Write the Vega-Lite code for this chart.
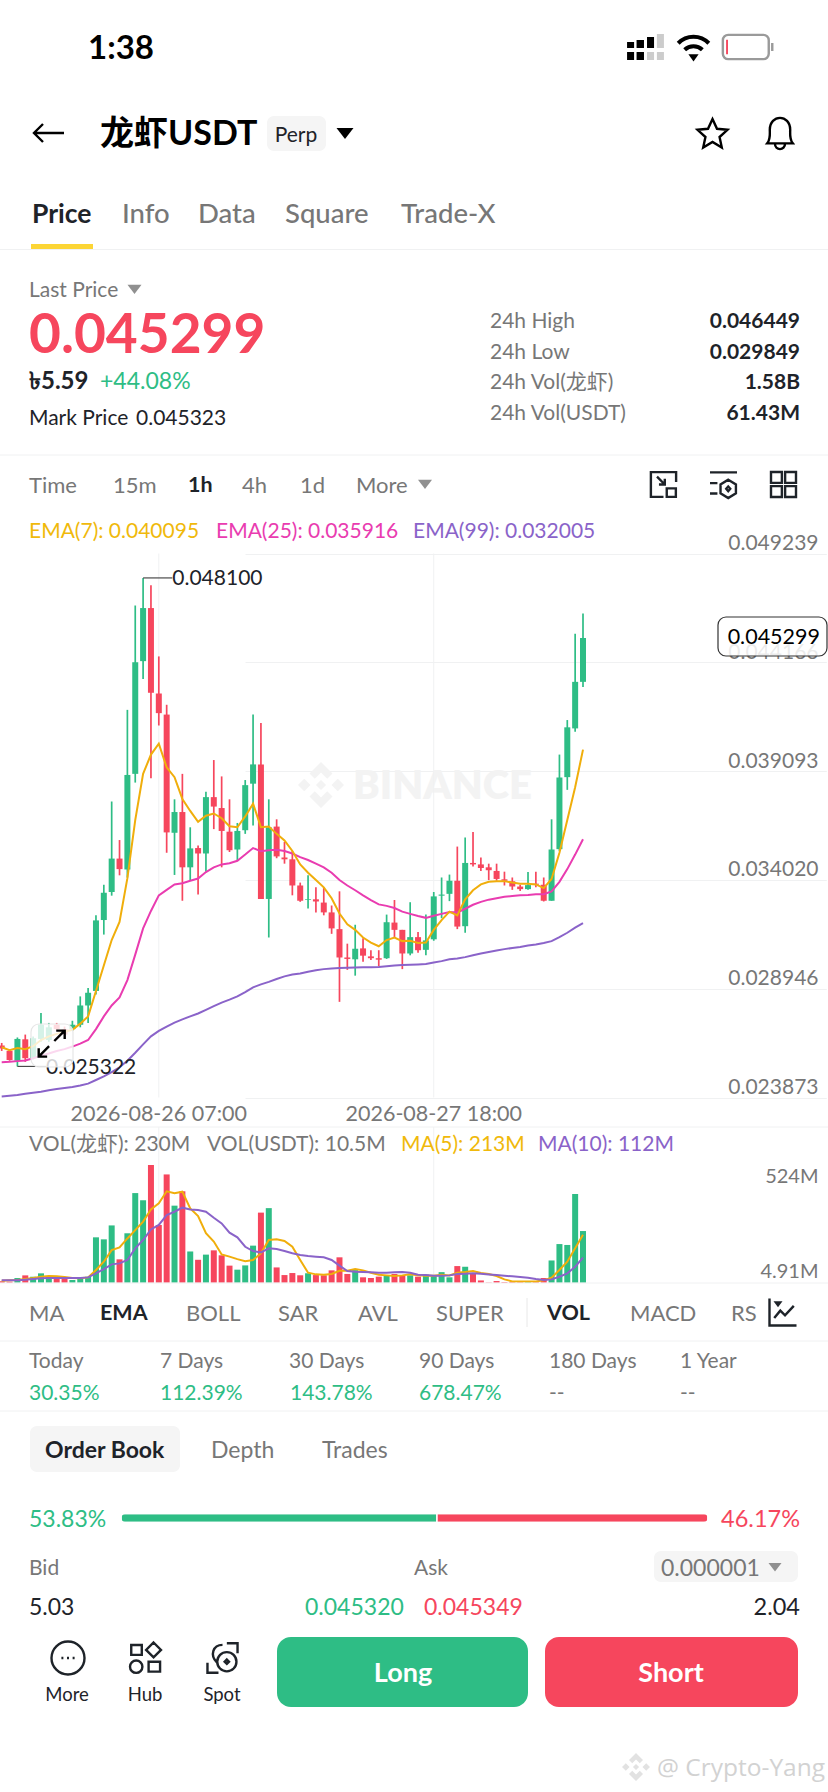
{
  "$schema": "https://vega.github.io/schema/vega-lite/v6.json",
  "width": 828,
  "height": 1792,
  "padding": 0,
  "autosize": "none",
  "background": "#FFFFFF",
  "config": {"view": {"stroke": null}, "text": {"dy": 1.5}},
  "datasets": {
    "candles": [
      {"t":"2026-08-25 11:00","open":0.026299,"high":0.026417,"low":0.026044,"close":0.026163,"ema7":0.026214,"ema25":0.025519,"ema99":0.023925,"vol":5.9,"ma5":8.9,"ma10":10.4},
      {"t":"2026-08-25 12:00","open":0.026044,"high":0.026129,"low":0.025586,"close":0.02562,"ema7":0.026078,"ema25":0.025536,"ema99":0.023959,"vol":4.5,"ma5":10.4,"ma10":10.4},
      {"t":"2026-08-25 13:00","open":0.025586,"high":0.026672,"low":0.025322,"close":0.026604,"ema7":0.02618,"ema25":0.025569,"ema99":0.023993,"vol":20.8,"ma5":11.9,"ma10":10.4},
      {"t":"2026-08-25 14:00","open":0.026587,"high":0.026807,"low":0.025536,"close":0.025705,"ema7":0.026129,"ema25":0.025603,"ema99":0.024044,"vol":32.6,"ma5":16.3,"ma10":13.4},
      {"t":"2026-08-25 15:00","open":0.025705,"high":0.026723,"low":0.025654,"close":0.026638,"ema7":0.026265,"ema25":0.025705,"ema99":0.024094,"vol":26.7,"ma5":20.8,"ma10":16.3},
      {"t":"2026-08-25 16:00","open":0.026604,"high":0.027808,"low":0.026468,"close":0.027265,"ema7":0.026553,"ema25":0.025824,"ema99":0.024145,"vol":41.6,"ma5":26.7,"ma10":19.3},
      {"t":"2026-08-25 17:00","open":0.026553,"high":0.02735,"low":0.026468,"close":0.027146,"ema7":0.026723,"ema25":0.025926,"ema99":0.024213,"vol":23.7,"ma5":29.7,"ma10":20.8},
      {"t":"2026-08-25 18:00","open":0.027265,"high":0.02735,"low":0.026977,"close":0.027062,"ema7":0.026841,"ema25":0.026044,"ema99":0.024264,"vol":20.8,"ma5":28.2,"ma10":20.8},
      {"t":"2026-08-25 19:00","open":0.027062,"high":0.02718,"low":0.026723,"close":0.026807,"ema7":0.026943,"ema25":0.026129,"ema99":0.024315,"vol":19.3,"ma5":25.2,"ma10":20.8},
      {"t":"2026-08-25 20:00","open":0.027062,"high":0.027451,"low":0.026977,"close":0.027265,"ema7":0.027028,"ema25":0.026248,"ema99":0.024366,"vol":11.9,"ma5":20.8,"ma10":20.8},
      {"t":"2026-08-25 21:00","open":0.027265,"high":0.028587,"low":0.027146,"close":0.028164,"ema7":0.027316,"ema25":0.026383,"ema99":0.024433,"vol":17.8,"ma5":19.3,"ma10":20.8},
      {"t":"2026-08-25 22:00","open":0.028164,"high":0.028977,"low":0.02735,"close":0.028757,"ema7":0.027655,"ema25":0.026553,"ema99":0.024518,"vol":26.7,"ma5":23.7,"ma10":23.7},
      {"t":"2026-08-25 23:00","open":0.028842,"high":0.032368,"low":0.028672,"close":0.032131,"ema7":0.028842,"ema25":0.027062,"ema99":0.024688,"vol":202,"ma5":56.4,"ma10":41.6},
      {"t":"2026-08-26 00:00","open":0.032148,"high":0.033793,"low":0.03147,"close":0.03342,"ema7":0.030029,"ema25":0.027655,"ema99":0.024857,"vol":193,"ma5":93.5,"ma10":60.8},
      {"t":"2026-08-26 01:00","open":0.033454,"high":0.037675,"low":0.033284,"close":0.035013,"ema7":0.031215,"ema25":0.028164,"ema99":0.025061,"vol":255,"ma5":145,"ma10":81.6},
      {"t":"2026-08-26 02:00","open":0.035013,"high":0.035878,"low":0.034233,"close":0.034522,"ema7":0.032063,"ema25":0.028537,"ema99":0.025281,"vol":104,"ma5":157,"ma10":86},
      {"t":"2026-08-26 03:00","open":0.034505,"high":0.041948,"low":0.034132,"close":0.038913,"ema7":0.034098,"ema25":0.02935,"ema99":0.025586,"vol":220,"ma5":197,"ma10":101},
      {"t":"2026-08-26 04:00","open":0.038964,"high":0.046814,"low":0.038557,"close":0.044169,"ema7":0.036811,"ema25":0.030537,"ema99":0.025959,"vol":399,"ma5":234,"ma10":153},
      {"t":"2026-08-26 05:00","open":0.04422,"high":0.0481,"low":0.043389,"close":0.046695,"ema7":0.038964,"ema25":0.031758,"ema99":0.02635,"vol":367,"ma5":272,"ma10":190},
      {"t":"2026-08-26 06:00","open":0.046695,"high":0.047764,"low":0.03876,"close":0.042745,"ema7":0.039863,"ema25":0.032572,"ema99":0.026723,"vol":524,"ma5":326,"ma10":237},
      {"t":"2026-08-26 07:00","open":0.042711,"high":0.04444,"low":0.041219,"close":0.041795,"ema7":0.040371,"ema25":0.033301,"ema99":0.026977,"vol":257,"ma5":353,"ma10":257},
      {"t":"2026-08-26 08:00","open":0.041728,"high":0.042185,"low":0.035285,"close":0.036234,"ema7":0.039269,"ema25":0.033555,"ema99":0.02718,"vol":482,"ma5":407,"ma10":301},
      {"t":"2026-08-26 09:00","open":0.036217,"high":0.037777,"low":0.03425,"close":0.037184,"ema7":0.038811,"ema25":0.03381,"ema99":0.027367,"vol":343,"ma5":398,"ma10":316},
      {"t":"2026-08-26 10:00","open":0.037184,"high":0.038964,"low":0.033047,"close":0.034606,"ema7":0.037794,"ema25":0.03386,"ema99":0.027519,"vol":407,"ma5":405,"ma10":334},
      {"t":"2026-08-26 11:00","open":0.034606,"high":0.036472,"low":0.034013,"close":0.035488,"ema7":0.037235,"ema25":0.033979,"ema99":0.027655,"vol":139,"ma5":331,"ma10":326},
      {"t":"2026-08-26 12:00","open":0.035505,"high":0.035624,"low":0.033335,"close":0.035251,"ema7":0.036726,"ema25":0.034081,"ema99":0.027791,"vol":102,"ma5":297,"ma10":324},
      {"t":"2026-08-26 13:00","open":0.035251,"high":0.038133,"low":0.034403,"close":0.037879,"ema7":0.037014,"ema25":0.034386,"ema99":0.02796,"vol":125,"ma5":220,"ma10":316},
      {"t":"2026-08-26 14:00","open":0.037879,"high":0.039608,"low":0.036387,"close":0.037438,"ema7":0.037116,"ema25":0.034606,"ema99":0.02813,"vol":144,"ma5":183,"ma10":289},
      {"t":"2026-08-26 15:00","open":0.03737,"high":0.038845,"low":0.034606,"close":0.036302,"ema7":0.036895,"ema25":0.034742,"ema99":0.028299,"vol":122,"ma5":126,"ma10":264},
      {"t":"2026-08-26 16:00","open":0.036268,"high":0.037777,"low":0.035319,"close":0.035403,"ema7":0.036522,"ema25":0.034793,"ema99":0.028435,"vol":76,"ma5":116,"ma10":223},
      {"t":"2026-08-26 17:00","open":0.035437,"high":0.036675,"low":0.034946,"close":0.036302,"ema7":0.036472,"ema25":0.034912,"ema99":0.028587,"vol":58,"ma5":105,"ma10":202},
      {"t":"2026-08-26 18:00","open":0.036336,"high":0.038676,"low":0.036166,"close":0.038438,"ema7":0.03698,"ema25":0.0352,"ema99":0.028791,"vol":77,"ma5":96,"ma10":160},
      {"t":"2026-08-26 19:00","open":0.038506,"high":0.041728,"low":0.036556,"close":0.039405,"ema7":0.037574,"ema25":0.035505,"ema99":0.029011,"vol":165,"ma5":101,"ma10":141},
      {"t":"2026-08-26 20:00","open":0.039405,"high":0.041338,"low":0.033131,"close":0.033131,"ema7":0.036472,"ema25":0.035353,"ema99":0.029147,"vol":312,"ma5":131,"ma10":135},
      {"t":"2026-08-26 21:00","open":0.033131,"high":0.037777,"low":0.031334,"close":0.036472,"ema7":0.036505,"ema25":0.035403,"ema99":0.029266,"vol":332,"ma5":190,"ma10":153},
      {"t":"2026-08-26 22:00","open":0.036505,"high":0.036845,"low":0.03503,"close":0.035115,"ema7":0.036166,"ema25":0.03542,"ema99":0.029401,"vol":68,"ma5":193,"ma10":150},
      {"t":"2026-08-26 23:00","open":0.035064,"high":0.035793,"low":0.034776,"close":0.03498,"ema7":0.035861,"ema25":0.035369,"ema99":0.02952,"vol":34,"ma5":186,"ma10":141},
      {"t":"2026-08-27 00:00","open":0.03498,"high":0.035369,"low":0.033301,"close":0.033759,"ema7":0.035369,"ema25":0.035251,"ema99":0.029605,"vol":43,"ma5":160,"ma10":131},
      {"t":"2026-08-27 01:00","open":0.033759,"high":0.033894,"low":0.032996,"close":0.033047,"ema7":0.034742,"ema25":0.035081,"ema99":0.029656,"vol":33,"ma5":101,"ma10":123},
      {"t":"2026-08-27 02:00","open":0.033081,"high":0.034233,"low":0.032691,"close":0.033114,"ema7":0.034352,"ema25":0.034946,"ema99":0.029741,"vol":42,"ma5":44.5,"ma10":119},
      {"t":"2026-08-27 03:00","open":0.033114,"high":0.033674,"low":0.032504,"close":0.033013,"ema7":0.034013,"ema25":0.034776,"ema99":0.029808,"vol":34,"ma5":37.1,"ma10":116},
      {"t":"2026-08-27 04:00","open":0.032962,"high":0.033674,"low":0.032368,"close":0.032504,"ema7":0.033674,"ema25":0.034606,"ema99":0.029859,"vol":33,"ma5":35.6,"ma10":113},
      {"t":"2026-08-27 05:00","open":0.032504,"high":0.032826,"low":0.031504,"close":0.031758,"ema7":0.033165,"ema25":0.034352,"ema99":0.029893,"vol":55,"ma5":38.6,"ma10":101},
      {"t":"2026-08-27 06:00","open":0.031724,"high":0.033487,"low":0.028333,"close":0.030402,"ema7":0.032453,"ema25":0.034013,"ema99":0.02991,"vol":113,"ma5":53.4,"ma10":76},
      {"t":"2026-08-27 07:00","open":0.030402,"high":0.031046,"low":0.029825,"close":0.030334,"ema7":0.031945,"ema25":0.033759,"ema99":0.029927,"vol":39,"ma5":53.4,"ma10":52},
      {"t":"2026-08-27 08:00","open":0.030317,"high":0.031928,"low":0.029554,"close":0.030809,"ema7":0.03169,"ema25":0.033538,"ema99":0.029935,"vol":56,"ma5":60.8,"ma10":49},
      {"t":"2026-08-27 09:00","open":0.030826,"high":0.0313,"low":0.030198,"close":0.030486,"ema7":0.031334,"ema25":0.033301,"ema99":0.029944,"vol":24,"ma5":54.9,"ma10":47.5},
      {"t":"2026-08-27 10:00","open":0.030453,"high":0.030741,"low":0.030283,"close":0.030368,"ema7":0.031097,"ema25":0.033081,"ema99":0.029944,"vol":21,"ma5":44.5,"ma10":46},
      {"t":"2026-08-27 11:00","open":0.030368,"high":0.030741,"low":0.029995,"close":0.0303,"ema7":0.030927,"ema25":0.032877,"ema99":0.029961,"vol":27,"ma5":35.6,"ma10":44.5},
      {"t":"2026-08-27 12:00","open":0.030368,"high":0.032402,"low":0.030334,"close":0.032046,"ema7":0.031215,"ema25":0.032809,"ema99":0.029995,"vol":33,"ma5":32.6,"ma10":44.5},
      {"t":"2026-08-27 13:00","open":0.032029,"high":0.033081,"low":0.031351,"close":0.03169,"ema7":0.031334,"ema25":0.032708,"ema99":0.030029,"vol":39,"ma5":29.7,"ma10":46},
      {"t":"2026-08-27 14:00","open":0.03169,"high":0.03169,"low":0.029859,"close":0.030588,"ema7":0.031165,"ema25":0.032538,"ema99":0.030046,"vol":34,"ma5":32.6,"ma10":47.5},
      {"t":"2026-08-27 15:00","open":0.030588,"high":0.032979,"low":0.030503,"close":0.031351,"ema7":0.031182,"ema25":0.032436,"ema99":0.030063,"vol":33,"ma5":37.1,"ma10":44.5},
      {"t":"2026-08-27 16:00","open":0.031351,"high":0.031589,"low":0.030622,"close":0.030741,"ema7":0.03108,"ema25":0.032335,"ema99":0.03008,"vol":27,"ma5":32.6,"ma10":35.6},
      {"t":"2026-08-27 17:00","open":0.030758,"high":0.032402,"low":0.030503,"close":0.031199,"ema7":0.031097,"ema25":0.03225,"ema99":0.030097,"vol":36,"ma5":31.2,"ma10":34},
      {"t":"2026-08-27 18:00","open":0.031249,"high":0.033454,"low":0.031182,"close":0.03325,"ema7":0.03169,"ema25":0.032351,"ema99":0.030164,"vol":30,"ma5":31.2,"ma10":31.2},
      {"t":"2026-08-27 19:00","open":0.033284,"high":0.034132,"low":0.032233,"close":0.033335,"ema7":0.032148,"ema25":0.032436,"ema99":0.030232,"vol":47,"ma5":35.6,"ma10":31.2},
      {"t":"2026-08-27 20:00","open":0.033369,"high":0.034267,"low":0.03303,"close":0.033979,"ema7":0.032538,"ema25":0.032521,"ema99":0.030317,"vol":24,"ma5":32.6,"ma10":32.6},
      {"t":"2026-08-27 21:00","open":0.033979,"high":0.035573,"low":0.031724,"close":0.031843,"ema7":0.032368,"ema25":0.032504,"ema99":0.030351,"vol":74,"ma5":44.5,"ma10":38.6},
      {"t":"2026-08-27 22:00","open":0.03186,"high":0.035997,"low":0.031555,"close":0.03481,"ema7":0.033114,"ema25":0.032674,"ema99":0.030419,"vol":71,"ma5":47.5,"ma10":40},
      {"t":"2026-08-27 23:00","open":0.03481,"high":0.036251,"low":0.03464,"close":0.034742,"ema7":0.033538,"ema25":0.03286,"ema99":0.030503,"vol":39,"ma5":51.9,"ma10":41.6},
      {"t":"2026-08-28 00:00","open":0.034742,"high":0.035064,"low":0.034437,"close":0.034573,"ema7":0.03381,"ema25":0.032996,"ema99":0.030588,"vol":10,"ma5":43,"ma10":40},
      {"t":"2026-08-28 01:00","open":0.034606,"high":0.034776,"low":0.034013,"close":0.034471,"ema7":0.033928,"ema25":0.033098,"ema99":0.030656,"vol":1.5,"ma5":38.6,"ma10":37},
      {"t":"2026-08-28 02:00","open":0.034437,"high":0.034776,"low":0.033979,"close":0.034064,"ema7":0.033962,"ema25":0.033165,"ema99":0.030724,"vol":7.4,"ma5":29.7,"ma10":34},
      {"t":"2026-08-28 03:00","open":0.034047,"high":0.034403,"low":0.033759,"close":0.033979,"ema7":0.033962,"ema25":0.033233,"ema99":0.030792,"vol":3,"ma5":14.8,"ma10":31.2},
      {"t":"2026-08-28 04:00","open":0.033962,"high":0.034132,"low":0.033555,"close":0.033708,"ema7":0.033894,"ema25":0.033267,"ema99":0.030842,"vol":3,"ma5":5.9,"ma10":28.2},
      {"t":"2026-08-28 05:00","open":0.033708,"high":0.033793,"low":0.033504,"close":0.033589,"ema7":0.033844,"ema25":0.033301,"ema99":0.030893,"vol":3,"ma5":5.9,"ma10":25.2},
      {"t":"2026-08-28 06:00","open":0.033589,"high":0.034386,"low":0.033555,"close":0.033776,"ema7":0.033844,"ema25":0.033318,"ema99":0.030961,"vol":5.9,"ma5":5.9,"ma10":22.3},
      {"t":"2026-08-28 07:00","open":0.033844,"high":0.034403,"low":0.033674,"close":0.033793,"ema7":0.03381,"ema25":0.033352,"ema99":0.031012,"vol":7.4,"ma5":5.9,"ma10":16.3},
      {"t":"2026-08-28 08:00","open":0.033793,"high":0.034132,"low":0.033013,"close":0.033047,"ema7":0.03364,"ema25":0.033352,"ema99":0.03108,"vol":21,"ma5":10.4,"ma10":11.9},
      {"t":"2026-08-28 09:00","open":0.033047,"high":0.036845,"low":0.033047,"close":0.035437,"ema7":0.034064,"ema25":0.033487,"ema99":0.031165,"vol":99,"ma5":22.3,"ma10":14.8},
      {"t":"2026-08-28 10:00","open":0.035454,"high":0.039863,"low":0.035369,"close":0.038794,"ema7":0.035285,"ema25":0.033928,"ema99":0.031351,"vol":172,"ma5":56.4,"ma10":26.7},
      {"t":"2026-08-28 11:00","open":0.038811,"high":0.041473,"low":0.038218,"close":0.041134,"ema7":0.036811,"ema25":0.034522,"ema99":0.031555,"vol":168,"ma5":93.5,"ma10":41.6},
      {"t":"2026-08-28 12:00","open":0.041083,"high":0.045492,"low":0.040931,"close":0.043254,"ema7":0.038337,"ema25":0.0352,"ema99":0.031792,"vol":395,"ma5":153,"ma10":71},
      {"t":"2026-08-28 13:00","open":0.043254,"high":0.046441,"low":0.043016,"close":0.045299,"ema7":0.040095,"ema25":0.035916,"ema99":0.032005,"vol":230,"ma5":213,"ma10":112}
    ],
    "extremes": [
      {"t":"2026-08-26 05:00","t_end":"2026-08-26 08:43","price":0.0481,"label":"0.048100"},
      {"t":"2026-08-25 13:00","t_end":"2026-08-25 16:39","price":0.025322,"label":"0.025322"}
    ],
    "last_price": [{"t":"2026-08-28 13:00","t_end":"2026-08-29 06:18","price":0.045299}],
    "time_marks": [{"t":"2026-08-26 07:00"},{"t":"2026-08-27 18:00"}],
    "order_book": [
      {"book":"depth","side":"Bid","share":53.83},
      {"book":"depth","side":"Ask","share":46.17}
    ],
    "watermark": [{"id":1,"text":"BINANCE","icon":"logo"}],
    "ui": [
      {"id":1,"text":"1:38","kind":"status"},
      {"id":2,"text":"龙虾USDT","kind":"title"},
      {"id":3,"text":"Perp","kind":"badge_c"},
      {"id":4,"text":"Price","kind":"tab_on"},
      {"id":5,"text":"Info","kind":"tab_off"},
      {"id":6,"text":"Data","kind":"tab_off"},
      {"id":7,"text":"Square","kind":"tab_off"},
      {"id":8,"text":"Trade-X","kind":"tab_off"},
      {"id":9,"text":"Last Price","kind":"muted"},
      {"id":10,"text":"0.045299","kind":"price"},
      {"id":11,"text":"৳5.59","kind":"fiat"},
      {"id":12,"text":"+44.08%","kind":"lg_up"},
      {"id":13,"text":"Mark Price","kind":"ink"},
      {"id":14,"text":"0.045323","kind":"ink"},
      {"id":15,"text":"24h High","kind":"muted"},
      {"id":16,"text":"24h Low","kind":"muted"},
      {"id":17,"text":"24h Vol(龙虾)","kind":"muted"},
      {"id":18,"text":"24h Vol(USDT)","kind":"muted"},
      {"id":19,"text":"0.046449","kind":"value_r"},
      {"id":20,"text":"0.029849","kind":"value_r"},
      {"id":21,"text":"1.58B","kind":"value_r"},
      {"id":22,"text":"61.43M","kind":"value_r"},
      {"id":23,"text":"Time","kind":"mid_muted"},
      {"id":24,"text":"15m","kind":"mid_muted"},
      {"id":25,"text":"1h","kind":"ink_strong"},
      {"id":26,"text":"4h","kind":"mid_muted"},
      {"id":27,"text":"1d","kind":"mid_muted"},
      {"id":28,"text":"More","kind":"mid_muted"},
      {"id":29,"text":"EMA(7): 0.040095","kind":"gold"},
      {"id":30,"text":"EMA(25): 0.035916","kind":"pink"},
      {"id":31,"text":"EMA(99): 0.032005","kind":"violet"},
      {"id":32,"text":"VOL(龙虾): 230M","kind":"muted"},
      {"id":33,"text":"VOL(USDT): 10.5M","kind":"muted"},
      {"id":34,"text":"MA(5): 213M","kind":"gold"},
      {"id":35,"text":"MA(10): 112M","kind":"violet"},
      {"id":36,"text":"MA","kind":"mid_muted"},
      {"id":37,"text":"EMA","kind":"ink_strong"},
      {"id":38,"text":"BOLL","kind":"mid_muted"},
      {"id":39,"text":"SAR","kind":"mid_muted"},
      {"id":40,"text":"AVL","kind":"mid_muted"},
      {"id":41,"text":"SUPER","kind":"mid_muted"},
      {"id":42,"text":"VOL","kind":"ink_strong"},
      {"id":43,"text":"MACD","kind":"mid_muted"},
      {"id":44,"text":"RS","kind":"mid_muted"},
      {"id":45,"text":"Today","kind":"muted"},
      {"id":46,"text":"7 Days","kind":"muted"},
      {"id":47,"text":"30 Days","kind":"muted"},
      {"id":48,"text":"90 Days","kind":"muted"},
      {"id":49,"text":"180 Days","kind":"muted"},
      {"id":50,"text":"1 Year","kind":"muted"},
      {"id":51,"text":"30.35%","kind":"up"},
      {"id":52,"text":"112.39%","kind":"up"},
      {"id":53,"text":"143.78%","kind":"up"},
      {"id":54,"text":"678.47%","kind":"up"},
      {"id":55,"text":"--","kind":"muted"},
      {"id":56,"text":"--","kind":"muted"},
      {"id":57,"text":"Order Book","kind":"seg_on"},
      {"id":58,"text":"Depth","kind":"lg_muted"},
      {"id":59,"text":"Trades","kind":"lg_muted"},
      {"id":60,"text":"53.83%","kind":"lg_up"},
      {"id":61,"text":"46.17%","kind":"down_r"},
      {"id":62,"text":"Bid","kind":"muted"},
      {"id":63,"text":"Ask","kind":"muted"},
      {"id":64,"text":"0.000001","kind":"lg_muted"},
      {"id":65,"text":"5.03","kind":"lg_ink"},
      {"id":66,"text":"0.045320","kind":"lg_up"},
      {"id":67,"text":"0.045349","kind":"lg_down"},
      {"id":68,"text":"2.04","kind":"ink_r"},
      {"id":69,"text":"More","kind":"nav_c"},
      {"id":70,"text":"Hub","kind":"nav_c"},
      {"id":71,"text":"Spot","kind":"nav_c"},
      {"id":72,"text":"Long","kind":"btn_c"},
      {"id":73,"text":"Short","kind":"btn_c"}
    ],
    "boxes": [
      {"id":76,"id2":77,"part":"pill"},
      {"id":78,"id2":79,"part":"pill"},
      {"id":80,"id2":81,"part":"pill"},
      {"id":82,"id2":83,"part":"long"},
      {"id":84,"id2":85,"part":"short"},
      {"id":86,"id2":87,"part":"expand"},
      {"id":88,"id2":89,"part":"tag"}
    ],
    "lines": [
      {"id":113,"id2":119},
      {"id":114,"id2":119},
      {"id":115,"id2":119},
      {"id":116,"id2":119},
      {"id":117,"id2":119},
      {"id":118,"id2":119}
    ],
    "stroked_icons": [
      {"id":90,"icon":"back"},
      {"id":92,"icon":"star"},
      {"id":93,"icon":"bell"},
      {"id":98,"icon":"battery"},
      {"id":103,"icon":"enter"},
      {"id":104,"icon":"hex"},
      {"id":105,"icon":"grid"},
      {"id":106,"icon":"chart"},
      {"id":108,"icon":"more"},
      {"id":109,"icon":"hub"},
      {"id":110,"icon":"spot"},
      {"id":111,"icon":"expand"}
    ],
    "filled_icons": [
      {"id":91,"icon":"tri_dark"},
      {"id":94,"icon":"sig_on"},
      {"id":95,"icon":"sig_off"},
      {"id":97,"icon":"wifi_dot"},
      {"id":99,"icon":"charge"},
      {"id":100,"icon":"tri_gray"},
      {"id":101,"icon":"tri_gray"},
      {"id":102,"icon":"tri_gray"},
      {"id":107,"icon":"tri_small"},
      {"id":112,"icon":"logo"}
    ]
  },
  "resolve": {"scale": {"x": "independent", "y": "independent", "color": "independent", "size": "independent", "shape": "independent"}, "axis": {"x": "independent", "y": "independent"}},
  "layer": [
    {
      "data": {"name": "watermark"},
      "encoding": {
        "y": {"field": "id", "type": "quantitative", "axis": null, "scale": {"domain": [0, 2], "range": [785, 785]}}
      },
      "resolve": {"scale": {"x": "independent"}},
      "layer": [
        {
          "mark": {"type": "text", "font": "Lato", "fontWeight": 800, "fontSize": 40, "align": "left", "baseline": "middle", "color": "#F3F3F3"},
          "encoding": {
            "x": {"field": "id", "type": "quantitative", "axis": null, "scale": {"domain": [0, 2], "range": [353, 353]}},
            "text": {"field": "text"}
          }
        },
        {
          "mark": {"type": "point", "filled": true, "color": "#F3F3F3", "opacity": 1, "size": 2116,
            "shape": "M0,-1 L0.5,-0.5 L0.27,-0.27 L0,-0.54 L-0.27,-0.27 L-0.5,-0.5 Z M-1,0 L-0.73,-0.27 L-0.46,0 L-0.73,0.27 Z M1,0 L0.73,-0.27 L0.46,0 L0.73,0.27 Z M0,-0.22 L0.22,0 L0,0.22 L-0.22,0 Z M0,1 L0.5,0.5 L0.27,0.27 L0,0.54 L-0.27,0.27 L-0.5,0.5 Z"},
          "encoding": {
            "x": {"field": "id", "type": "quantitative", "axis": null, "scale": {"domain": [0, 2], "range": [321, 321]}}
          }
        }
      ]
    },
    {
      "data": {"name": "candles", "format": {"parse": {"t": "date", "t_end": "date"}}},
      "encoding": {
        "x": {"field": "t", "type": "temporal", "axis": null,
          "scale": {"domain": [{"year": 2026, "month": 8, "date": 25, "hours": 11}, {"year": 2026, "month": 8, "date": 28, "hours": 13}], "range": [1.7, 583], "padding": 0}}
      },
      "layer": [
        {
          "data": {"name": "time_marks", "format": {"parse": {"t": "date"}}},
          "mark": {"type": "rule", "color": "#F0F1F2", "strokeWidth": 1},
          "encoding": {
            "y": {"datum": 0.049239, "type": "quantitative", "scale": {"domain": [0.023873, 0.049239], "range": [1097.5, 553.5]},
              "axis": {"orient": "right", "title": null, "values": [0.049239, 0.044166, 0.039093, 0.03402, 0.028946, 0.023873], "format": ".6f",
                "grid": true, "gridColor": "#F0F1F2", "ticks": false, "domain": false, "labelPadding": -10, "labelAlign": "right", "labelBaseline": "bottom",
                "labelColor": "#777777", "labelFont": "Lato", "labelFontSize": 21, "labelOverlap": false, "labelBound": false, "labelFlush": false}},
            "y2": {"datum": 0.023873}
          }
        },
        {
          "data": {"name": "time_marks", "format": {"parse": {"t": "date"}}},
          "mark": {"type": "text", "font": "Lato", "fontSize": 21.5, "color": "#777777", "align": "center", "baseline": "middle"},
          "encoding": {
            "y": {"datum": 0.02315, "type": "quantitative", "scale": {"domain": [0.023873, 0.049239], "range": [1097.5, 553.5]}},
            "text": {"field": "t", "type": "temporal", "format": "%Y-%m-%d %H:%M"}
          }
        },
        {
          "mark": {"type": "rule", "strokeWidth": 1.7},
          "encoding": {
            "y": {"field": "high", "type": "quantitative", "scale": {"domain": [0.023873, 0.049239], "range": [1097.5, 553.5]}},
            "y2": {"field": "low"},
            "color": {"condition": {"test": "datum.close>=datum.open", "value": "#2EBD85"}, "value": "#F6465D"}
          }
        },
        {
          "mark": {"type": "bar", "size": 6},
          "encoding": {
            "y": {"field": "open", "type": "quantitative", "scale": {"domain": [0.023873, 0.049239], "range": [1097.5, 553.5]}},
            "y2": {"field": "close"},
            "color": {"condition": {"test": "datum.close>=datum.open", "value": "#2EBD85"}, "value": "#F6465D"}
          }
        },
        {
          "mark": {"type": "line", "color": "#8A63C9", "strokeWidth": 2},
          "encoding": {"y": {"field": "ema99", "type": "quantitative", "scale": {"domain": [0.023873, 0.049239], "range": [1097.5, 553.5]}}}
        },
        {
          "mark": {"type": "line", "color": "#E93CB0", "strokeWidth": 2},
          "encoding": {"y": {"field": "ema25", "type": "quantitative", "scale": {"domain": [0.023873, 0.049239], "range": [1097.5, 553.5]}}}
        },
        {
          "mark": {"type": "line", "color": "#F0AE0B", "strokeWidth": 2},
          "encoding": {"y": {"field": "ema7", "type": "quantitative", "scale": {"domain": [0.023873, 0.049239], "range": [1097.5, 553.5]}}}
        },
        {
          "data": {"name": "extremes", "format": {"parse": {"t": "date", "t_end": "date"}}},
          "mark": {"type": "rule", "color": "#4A4A4A", "strokeWidth": 1.2},
          "encoding": {
            "x2": {"field": "t_end"},
            "y": {"field": "price", "type": "quantitative", "scale": {"domain": [0.023873, 0.049239], "range": [1097.5, 553.5]}}
          }
        },
        {
          "data": {"name": "extremes", "format": {"parse": {"t": "date", "t_end": "date"}}},
          "mark": {"type": "text", "font": "Lato", "fontSize": 21, "color": "#1E2329", "align": "left", "baseline": "middle"},
          "encoding": {
            "x": {"field": "t_end", "type": "temporal", "axis": null,
              "scale": {"domain": [{"year": 2026, "month": 8, "date": 25, "hours": 11}, {"year": 2026, "month": 8, "date": 28, "hours": 13}], "range": [1.7, 583], "padding": 0}},
            "y": {"field": "price", "type": "quantitative", "scale": {"domain": [0.023873, 0.049239], "range": [1097.5, 553.5]}},
            "text": {"field": "label"}
          }
        },
        {
          "data": {"name": "last_price", "format": {"parse": {"t": "date", "t_end": "date"}}},
          "mark": {"type": "rule", "color": "#6B6B6B", "strokeWidth": 1.2, "strokeDash": [4, 3]},
          "encoding": {
            "x2": {"field": "t_end"},
            "y": {"field": "price", "type": "quantitative", "scale": {"domain": [0.023873, 0.049239], "range": [1097.5, 553.5]}}
          }
        }
      ]
    },
    {
      "data": {"name": "candles", "format": {"parse": {"t": "date"}}},
      "encoding": {
        "x": {"field": "t", "type": "temporal", "axis": null,
          "scale": {"domain": [{"year": 2026, "month": 8, "date": 25, "hours": 11}, {"year": 2026, "month": 8, "date": 28, "hours": 13}], "range": [1.7, 583], "padding": 0}}
      },
      "layer": [
        {
          "data": {"name": "time_marks", "format": {"parse": {"t": "date"}}},
          "mark": {"type": "rule", "color": "#F0F1F2", "strokeWidth": 1},
          "encoding": {
            "y": {"datum": 0, "type": "quantitative", "scale": {"domain": [0, 524], "range": [1282.7, 1165]},
              "axis": {"orient": "right", "title": null, "values": [4.91, 524], "grid": false, "ticks": false, "domain": false, "labelPadding": -10, "labelAlign": "right",
                "labelBaseline": {"condition": {"test": "datum.value>100", "value": "line-top"}, "value": "bottom"},
                "labelExpr": "datum.value>100?'524M':'4.91M'", "labelColor": "#777777", "labelFont": "Lato", "labelFontSize": 20, "labelOverlap": false, "labelBound": false, "labelFlush": false}},
            "y2": {"datum": 693}
          }
        },
        {
          "mark": {"type": "bar", "size": 6},
          "encoding": {
            "y": {"field": "vol", "type": "quantitative", "scale": {"domain": [0, 524], "range": [1282.7, 1165]}},
            "color": {"condition": {"test": "datum.close>=datum.open", "value": "#2EBD85"}, "value": "#F6465D"}
          }
        },
        {
          "mark": {"type": "line", "color": "#F0AE0B", "strokeWidth": 2},
          "encoding": {"y": {"field": "ma5", "type": "quantitative", "scale": {"domain": [0, 524], "range": [1282.7, 1165]}}}
        },
        {
          "mark": {"type": "line", "color": "#8A63C9", "strokeWidth": 2},
          "encoding": {"y": {"field": "ma10", "type": "quantitative", "scale": {"domain": [0, 524], "range": [1282.7, 1165]}}}
        }
      ]
    },
    {
      "data": {"name": "order_book"},
      "mark": {"type": "bar", "size": 9, "cornerRadius": 4, "stroke": "#FFFFFF", "strokeWidth": 1.5},
      "encoding": {
        "x": {"field": "share", "type": "quantitative", "axis": null, "stack": "zero", "scale": {"domain": [0, 100], "range": [121, 708]}},
        "y": {"field": "book", "type": "nominal", "axis": null, "scale": {"type": "point", "range": [1518, 1518]}},
        "order": {"field": "share", "sort": "descending"},
        "color": {"field": "side", "type": "nominal", "legend": null, "scale": {"domain": ["Bid", "Ask"], "range": ["#2EBD85", "#F6465D"]}}
      }
    },
    {
      "encoding": {
        "x": {"field": "id", "type": "quantitative", "axis": null, "scale": {
          "domain": [1,2,3,4,5,6,7,8,9,10,11,12,13,14,15,16,17,18,19,20,21,22,23,24,25,26,27,28,29,30,31,32,33,34,35,36,37,38,39,40,41,42,43,44,45,46,47,48,49,50,51,52,53,54,55,56,57,58,59,60,61,62,63,64,65,66,67,68,69,70,71,72,73,74,75,76,77,78,79,80,81,82,83,84,85,86,87,88,89,90,91,92,93,94,95,96,97,98,99,100,101,102,103,104,105,106,107,108,109,110,111,112,113,114,115,116,117,118,119,120,121,122,123],
          "range": [88,100,296,32,122,198,285,401,29,29,29,100,29,136,490,490,490,490,800,800,800,800,29,113,188,242,300,356,29,216,413,29,207,401,538,29,100,186,278,358,436,547,630,731,29,160,289,419,549,680,29,160,290,419,549,680,45,211,322,29,800,29,414,661,29,305,424,800,67,145,222,403,671,657,820,267,326,30,180,654,798,277,528,545,798,31,73,718,827,49,345,712.5,780,645.5,645.5,693.5,693.5,748.5,748.5,134.5,425,775,663.5,723.5,783.5,783,778,68,145.5,222.5,51.7,636,0,0,0,0,0,0,828,31,93,527,527]}},
        "y": {"field": "id", "type": "quantitative", "axis": null, "scale": {
          "domain": [1,2,3,4,5,6,7,8,9,10,11,12,13,14,15,16,17,18,19,20,21,22,23,24,25,26,27,28,29,30,31,32,33,34,35,36,37,38,39,40,41,42,43,44,45,46,47,48,49,50,51,52,53,54,55,56,57,58,59,60,61,62,63,64,65,66,67,68,69,70,71,72,73,74,75,76,77,78,79,80,81,82,83,84,85,86,87,88,89,90,91,92,93,94,95,96,97,98,99,100,101,102,103,104,105,106,107,108,109,110,111,112,113,114,115,116,117,118,119,120,121,122,123],
          "range": [47,133,134,213,213,213,213,213,289,334,380,380,417,417,320,351,381,412,320,351,381,412,484,484,484,484,484,484,530,530,530,1143,1143,1143,1143,1312,1312,1312,1312,1312,1312,1312,1312,1312,1360,1360,1360,1360,1360,1360,1392,1392,1392,1392,1392,1392,1449,1449,1449,1518,1518,1567,1567,1567,1606,1606,1606,1606,1693,1693,1693,1672,1672,1767,636,116,151,1426,1472,1551,1582,1637,1707,1637,1707,1024,1067,617,656,133,133,134,134,47,47,47,47,47,47,289,484,1567,484.5,484.5,484.5,1312,1304,1658,1658,1658,1043.6,1767,249.5,455,1127,1283,1341,1411,0,246.5,246.5,1298,1327]}}
      },
      "resolve": {"scale": {"color": "independent", "size": "independent", "shape": "independent"}},
      "layer": [
        {"data": {"name": "lines"}, "mark": {"type": "rule", "color": "#F0F1F2", "strokeWidth": 1}, "encoding": {"x2": {"field": "id2"}}},
        {"data": {"values": [{"id": 120, "id2": 121}]}, "mark": {"type": "rule", "color": "#FCD535", "strokeWidth": 5}, "encoding": {"x2": {"field": "id2"}}},
        {"data": {"values": [{"id": 122, "id2": 123}]}, "mark": {"type": "rule", "color": "#E8E8E8", "strokeWidth": 1}, "encoding": {"y2": {"field": "id2"}}},
        {"data": {"name": "boxes"}, "transform": [{"filter": "datum.part=='pill'"}], "mark": {"type": "rect", "color": "#F5F5F5", "cornerRadius": 7}, "encoding": {"x2": {"field": "id2"}, "y2": {"field": "id2"}}},
        {"data": {"name": "boxes"}, "transform": [{"filter": "datum.part=='long'"}], "mark": {"type": "rect", "color": "#2EBD85", "cornerRadius": 14}, "encoding": {"x2": {"field": "id2"}, "y2": {"field": "id2"}}},
        {"data": {"name": "boxes"}, "transform": [{"filter": "datum.part=='short'"}], "mark": {"type": "rect", "color": "#F6465D", "cornerRadius": 14}, "encoding": {"x2": {"field": "id2"}, "y2": {"field": "id2"}}},
        {"data": {"name": "boxes"}, "transform": [{"filter": "datum.part=='expand'"}], "mark": {"type": "rect", "fill": "#FFFFFF", "fillOpacity": 0.8, "stroke": "#E6E6E6", "strokeWidth": 1.2, "cornerRadius": 8}, "encoding": {"x2": {"field": "id2"}, "y2": {"field": "id2"}}},
        {"data": {"name": "boxes"}, "transform": [{"filter": "datum.part=='tag'"}], "mark": {"type": "rect", "fill": "#FFFFFF", "fillOpacity": 0.85, "stroke": "#333333", "strokeWidth": 1.2, "cornerRadius": 8}, "encoding": {"x2": {"field": "id2"}, "y2": {"field": "id2"}}},
        {
          "data": {"name": "ui"},
          "encoding": {
            "text": {"field": "text"},
            "color": {"field": "kind", "type": "nominal", "legend": null, "scale": {
              "domain": ["status","title","badge_c","tab_on","tab_off","muted","mid_muted","lg_muted","ink","lg_ink","ink_strong","seg_on","price","fiat","up","lg_up","lg_down","gold","pink","violet","value_r","ink_r","down_r","nav_c","btn_c"],
              "range": ["#000000","#000000","#1E2329","#1E2329","#777777","#777777","#777777","#777777","#1E2329","#1E2329","#1E2329","#1E2329","#F6465D","#1E2329","#2EBD85","#2EBD85","#F6465D","#F0B90B","#E93CB0","#8A63C9","#1E2329","#1E2329","#F6465D","#1E2329","#FFFFFF"]}}
          },
          "layer": [
            {"transform": [{"filter": {"field": "kind", "oneOf": ["muted","ink","up","gold","pink","violet"]}}], "mark": {"type": "text", "font": "Lato, Noto Sans CJK SC", "fontSize": 21, "align": "left", "baseline": "middle"}},
            {"transform": [{"filter": {"field": "kind", "oneOf": ["mid_muted"]}}], "mark": {"type": "text", "font": "Lato", "fontSize": 22, "align": "left", "baseline": "middle"}},
            {"transform": [{"filter": {"field": "kind", "oneOf": ["lg_muted","lg_ink","lg_up","lg_down"]}}], "mark": {"type": "text", "font": "Lato", "fontSize": 23, "align": "left", "baseline": "middle"}},
            {"transform": [{"filter": {"field": "kind", "oneOf": ["tab_off"]}}], "mark": {"type": "text", "font": "Lato", "fontWeight": 500, "fontSize": 27.5, "align": "left", "baseline": "middle"}},
            {"transform": [{"filter": {"field": "kind", "oneOf": ["tab_on"]}}], "mark": {"type": "text", "font": "Lato", "fontWeight": 700, "fontSize": 26.5, "align": "left", "baseline": "middle"}},
            {"transform": [{"filter": {"field": "kind", "oneOf": ["status"]}}], "mark": {"type": "text", "font": "Lato", "fontWeight": 700, "fontSize": 33, "align": "left", "baseline": "middle"}},
            {"transform": [{"filter": {"field": "kind", "oneOf": ["title"]}}], "mark": {"type": "text", "font": "Lato, Noto Sans CJK SC", "fontWeight": 700, "fontSize": 34, "align": "left", "baseline": "middle"}},
            {"transform": [{"filter": {"field": "kind", "oneOf": ["ink_strong"]}}], "mark": {"type": "text", "font": "Lato", "fontWeight": 700, "fontSize": 21.5, "align": "left", "baseline": "middle"}},
            {"transform": [{"filter": {"field": "kind", "oneOf": ["seg_on"]}}], "mark": {"type": "text", "font": "Lato", "fontWeight": 700, "fontSize": 23, "align": "left", "baseline": "middle"}},
            {"transform": [{"filter": {"field": "kind", "oneOf": ["price"]}}], "mark": {"type": "text", "font": "Lato", "fontWeight": 700, "fontSize": 55, "align": "left", "baseline": "middle"}},
            {"transform": [{"filter": {"field": "kind", "oneOf": ["fiat"]}}], "mark": {"type": "text", "font": "Lato, Noto Sans", "fontWeight": 700, "fontSize": 24, "align": "left", "baseline": "middle"}},
            {"transform": [{"filter": {"field": "kind", "oneOf": ["ink_r","down_r"]}}], "mark": {"type": "text", "font": "Lato", "fontSize": 23.5, "align": "right", "baseline": "middle"}},
            {"transform": [{"filter": {"field": "kind", "oneOf": ["value_r"]}}], "mark": {"type": "text", "font": "Lato", "fontWeight": 700, "fontSize": 21, "align": "right", "baseline": "middle"}},
            {"transform": [{"filter": {"field": "kind", "oneOf": ["badge_c"]}}], "mark": {"type": "text", "font": "Lato", "fontSize": 21, "align": "center", "baseline": "middle"}},
            {"transform": [{"filter": {"field": "kind", "oneOf": ["nav_c"]}}], "mark": {"type": "text", "font": "Lato", "fontSize": 18.5, "align": "center", "baseline": "middle"}},
            {"transform": [{"filter": {"field": "kind", "oneOf": ["btn_c"]}}], "mark": {"type": "text", "font": "Lato", "fontWeight": 700, "fontSize": 27, "align": "center", "baseline": "middle"}}
          ]
        },
        {
          "data": {"values": [{"id": 74, "text": "@ Crypto-Yang"}]},
          "mark": {"type": "text", "font": "Open Sans", "fontSize": 24.5, "color": "#D2D2D2", "align": "left", "baseline": "middle"},
          "encoding": {"text": {"field": "text"}}
        },
        {
          "data": {"values": [{"id": 75, "text": "0.045299"}]},
          "mark": {"type": "text", "font": "Lato", "fontSize": 21.5, "color": "#000000", "align": "right", "baseline": "middle"},
          "encoding": {"text": {"field": "text"}}
        },
        {
          "data": {"values": [{"id": 96}]},
          "mark": {"type": "point", "filled": false, "strokeWidth": 4, "color": "#000000", "opacity": 1, "size": 1156,
            "shape": "M-0.9,-0.22 A1.25,1.25 0 0 1 0.9,-0.22 M-0.52,0.16 A0.75,0.75 0 0 1 0.52,0.16"}
        },
        {
          "data": {"name": "stroked_icons"},
          "mark": {"type": "point", "filled": false, "strokeWidth": 2.4, "opacity": 1},
          "encoding": {
            "shape": {"field": "icon", "type": "nominal", "legend": null, "scale": {
              "domain": ["back","star","bell","battery","enter","hex","grid","chart","more","hub","spot","expand"],
              "range": [
                "M-1,0 H1 M-0.4,-0.6 L-1,0 L-0.4,0.6",
                "M0,-1 L0.3,-0.35 L1,-0.28 L0.47,0.2 L0.62,0.9 L0,0.53 L-0.62,0.9 L-0.47,0.2 L-1,-0.28 L-0.3,-0.35 Z",
                "M-0.75,0.55 C-0.55,0.3 -0.6,0 -0.6,-0.25 C-0.6,-0.7 -0.3,-0.95 0,-0.95 C0.3,-0.95 0.6,-0.7 0.6,-0.25 C0.6,0 0.55,0.3 0.75,0.55 Z M-0.3,0.55 C-0.3,1 0.3,1 0.3,0.55",
                "M-0.75,-0.45 H0.55 A0.2,0.2 0 0 1 0.75,-0.25 V0.25 A0.2,0.2 0 0 1 0.55,0.45 H-0.75 A0.2,0.2 0 0 1 -0.95,0.25 V-0.25 A0.2,0.2 0 0 1 -0.75,-0.45 Z M0.88,-0.15 V0.15",
                "M0.97,-0.2 V-0.95 H-0.97 V0.95 H0 M0.25,0.3 H0.95 V0.95 H0.25 Z M-0.5,-0.6 L0.1,0 M0.1,-0.45 V0 H-0.35",
                "M-1,-0.9 H1 M-1,-0.1 H-0.45 M-1,0.67 H-0.45 M0.35,-0.35 L0.92,0 V0.65 L0.35,1 L-0.22,0.65 V0 Z M0.35,0.15 L0.5,0.32 L0.35,0.5 L0.2,0.32 Z",
                "M-1,-1 H-0.13 V-0.13 H-1 Z M0.13,-1 H1 V-0.13 H0.13 Z M-1,0.13 H-0.13 V1 H-1 Z M0.13,0.13 H1 V1 H0.13 Z",
                "M-1,-1 V1 H1 M-0.65,0.45 L-0.2,-0.1 L0.15,0.25 L0.8,-0.45",
                "M-1,0 A1,1 0 1 1 1,0 A1,1 0 1 1 -1,0 Z M-0.4,0 H-0.28 M-0.06,0 H0.06 M0.28,0 H0.4",
                "M-0.92,-0.84 H-0.24 V-0.2 H-0.92 Z M0.52,-1 L1,-0.52 L0.52,-0.04 L0.04,-0.52 Z M-0.2,0.56 A0.4,0.4 0 1 1 -1,0.56 A0.4,0.4 0 1 1 -0.2,0.56 Z M0.2,0.24 H0.94 V0.88 H0.2 Z",
                "M0.28,-0.95 H0.97 V-0.3 M-0.97,0.3 V0.95 H-0.26 M-0.35,0.3 C-0.85,-0.2 -0.6,-0.85 0,-0.85 M0.9,0.24 A0.62,0.62 0 1 1 -0.34,0.24 A0.62,0.62 0 1 1 0.9,0.24 Z M0.28,0.1 L0.42,0.24 L0.28,0.38 L0.14,0.24 Z",
                "M0.2,-0.2 L1,-1 M0.35,-1 H1 V-0.35 M-0.2,0.2 L-1,1 M-1,0.35 V1 H-0.35"
              ]}},
            "size": {"field": "id", "type": "quantitative", "legend": null, "scale": {
              "domain": [90,92,93,98,103,104,105,106,108,109,110,111],
              "range": [900,900,1156,2916,676,729,625,729,1089,961,961,676], "zero": false}},
            "color": {"field": "icon", "type": "nominal", "legend": null, "scale": {
              "domain": ["back","star","bell","battery","enter","hex","grid","chart","more","hub","spot","expand"],
              "range": ["#000000","#000000","#000000","#9A9A9A","#1E2329","#1E2329","#1E2329","#1E2329","#1E2329","#1E2329","#1E2329","#000000"]}}
          }
        },
        {
          "data": {"name": "filled_icons"},
          "mark": {"type": "point", "filled": true, "opacity": 1},
          "encoding": {
            "shape": {"field": "icon", "type": "nominal", "legend": null, "scale": {
              "domain": ["tri_dark","sig_on","sig_off","wifi_dot","charge","tri_gray","tri_small","logo"],
              "range": [
                "M-1,-0.6 L1,-0.6 L0,0.7 Z",
                "M-0.97,-0.26 H-0.6 V0.05 H-0.97 Z M-0.47,-0.37 H-0.08 V0.05 H-0.47 Z M0.08,-0.53 H0.45 V0.05 H0.08 Z M-0.97,0.26 H-0.6 V0.68 H-0.97 Z M-0.47,0.26 H-0.08 V0.68 H-0.47 Z",
                "M0.6,-0.68 H0.97 V0.05 H0.6 Z M0.08,0.26 H0.45 V0.68 H0.08 Z M0.6,0.26 H0.97 V0.68 H0.6 Z",
                "M-0.3,0.42 L0.3,0.42 L0,0.85 Z",
                "M-0.83,-0.27 H-0.76 V0.27 H-0.83 Z",
                "M-1,-0.6 L1,-0.6 L0,0.7 Z",
                "M-1,-0.6 L1,-0.6 L0,0.7 Z",
                "M0,-1 L0.5,-0.5 L0.27,-0.27 L0,-0.54 L-0.27,-0.27 L-0.5,-0.5 Z M-1,0 L-0.73,-0.27 L-0.46,0 L-0.73,0.27 Z M1,0 L0.73,-0.27 L0.46,0 L0.73,0.27 Z M0,-0.22 L0.22,0 L0,0.22 L-0.22,0 Z M0,1 L0.5,0.5 L0.27,0.27 L0,0.54 L-0.27,0.27 L-0.5,0.5 Z"
              ]}},
            "size": {"field": "id", "type": "quantitative", "legend": null, "scale": {
              "domain": [91,94,95,97,99,100,101,102,107,112],
              "range": [289,1444,1444,1156,2916,196,196,169,81,784], "zero": false}},
            "color": {"field": "icon", "type": "nominal", "legend": null, "scale": {
              "domain": ["tri_dark","sig_on","sig_off","wifi_dot","charge","tri_gray","tri_small","logo"],
              "range": ["#000000","#000000","#CCCCCC","#000000","#F6465D","#909090","#1E2329","#E2E2E2"]}}
          }
        }
      ]
    }
  ]
}
